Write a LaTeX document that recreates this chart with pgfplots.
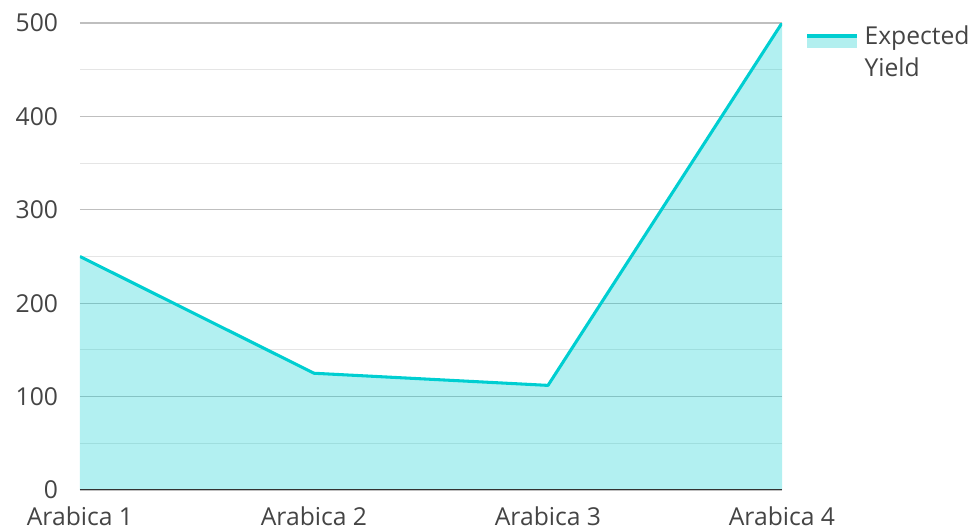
\documentclass[border=0pt]{standalone}
\usepackage{pgfplots}
\pgfplotsset{compat=1.18}
\usepackage{fontspec}
\setmainfont{Open Sans}
\definecolor{lineC}{HTML}{00CED1}
\definecolor{fillC}{HTML}{B2EFEF}
\definecolor{txt}{HTML}{444444}
\begin{document}
\begin{tikzpicture}
\path[use as bounding box] (-60pt,-30.75pt) rectangle (672pt,367.5pt);
\begin{axis}[
  at={(0pt,0pt)}, anchor=origin,
  scale only axis,
  width=526.5pt, height=350.25pt,
  xmin=0, xmax=3, ymin=0, ymax=500,
  xtick={0,1,2,3},
  xticklabels={Arabica 1,Arabica 2,Arabica 3,Arabica 4},
  ytick={0,100,200,300,400,500},
  minor y tick num=1,
  ymajorgrids, yminorgrids,
  major grid style={draw=black!25, line width=0.8pt},
  minor grid style={draw=black!10, line width=0.8pt},
  axis x line*=bottom, axis y line*=left,
  x axis line style={draw=none},
  y axis line style={draw=none},
  major tick length=0pt, minor tick length=0pt,
  tick style={draw=none},
  ticklabel style={font=\fontsize{18.5}{22}\selectfont, text=txt},
  /pgf/number format/assume math mode=true,
  yticklabel style={xshift=-13pt},
  xticklabel style={yshift=-9pt},
  legend style={at={(1.027,1.006)}, anchor=north west, draw=none, fill=none,
    font=\fontsize{18.5}{24}\selectfont, text=txt,
    cells={align=left, anchor=west}},
  legend cell align=left,
  legend image code/.code={
    \path[draw=none, fill=none] (0pt,6pt) rectangle (41pt,6pt);
    \fill[fillC, draw=none] (0pt,3pt) rectangle (37.5pt,12pt);
    \draw[lineC, line width=3pt] (0pt,12pt) -- (37.5pt,12pt);
  },
]
\addplot[draw=none, fill=lineC, fill opacity=0.3, forget plot] coordinates {
 (0,250) (1,125) (2,112) (3,500)
} \closedcycle;
\addplot[draw=lineC, line width=2.3pt, line join=round] coordinates {
 (0,250) (1,125) (2,112) (3,500)
};
\addlegendentry{Expected\\Yield}
\draw[black!80, line width=1.6pt] (axis cs:0,0) -- (axis cs:3,0);
\end{axis}
\end{tikzpicture}
\end{document}
